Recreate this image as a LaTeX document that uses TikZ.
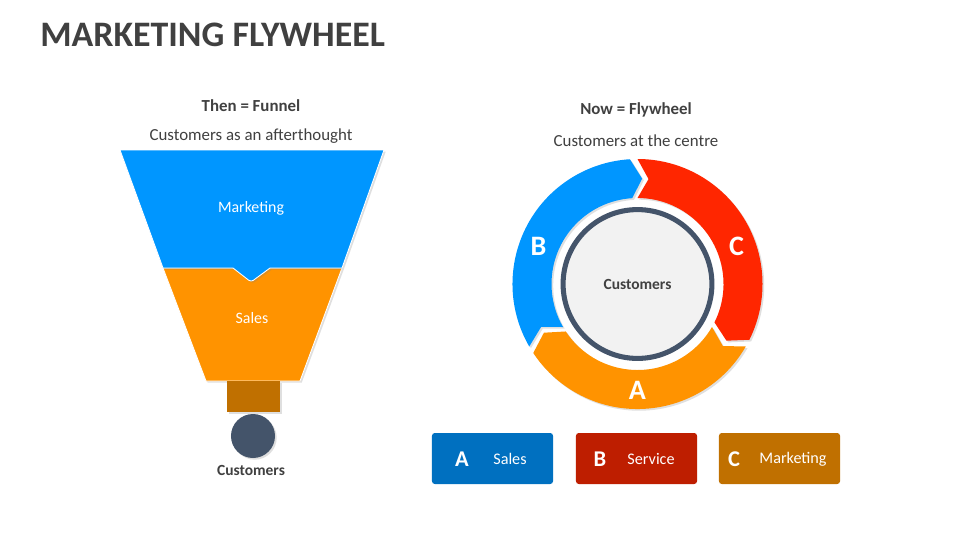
\documentclass[tikz,border=0pt]{standalone}
\usepackage{fontspec}
\setmainfont{Carlito}
\usetikzlibrary{shadows}
\definecolor{fwblue}{HTML}{0096FF}
\definecolor{fwred}{HTML}{FF2600}
\definecolor{fworange}{HTML}{FF9300}
\definecolor{fwbrown}{HTML}{C07000}
\definecolor{fwslate}{HTML}{44546A}
\definecolor{fwtext}{HTML}{404040}
\definecolor{hubfill}{HTML}{F2F2F2}
\definecolor{keyblue}{HTML}{0070C0}
\definecolor{keyred}{HTML}{BE1E00}
\tikzset{
  softshadow/.style={drop shadow={shadow xshift=1.2pt,shadow yshift=-1.2pt,opacity=0.25}},
  piece/.style={draw=white,line width=0.6pt,softshadow},
  heading/.style={text=fwtext,font=\bfseries\fontsize{12}{14}\selectfont},
  subline/.style={text=fwtext,font=\fontsize{12}{14}\selectfont},
  inlabel/.style={text=white,font=\fontsize{11.3}{13}\selectfont},
  ringletter/.style={text=white,font=\bfseries\fontsize{20}{24}\selectfont},
  keybox/.style={rounded corners=2pt,minimum width=3.025cm,minimum height=1.275cm,inner sep=0pt},
  keyletter/.style={text=white,font=\bfseries\fontsize{16}{18}\selectfont},
  keyword/.style={text=white,font=\fontsize{11.5}{13}\selectfont}
}
\begin{document}
\begin{tikzpicture}[x=0.025cm,y=0.025cm]
  \useasboundingbox[fill=white] (0,0) rectangle (960,-540);
  % Title
  \node (title) [anchor=base west,inner sep=0pt,text=fwtext,font=\bfseries\fontsize{25.5}{30}\selectfont] at (40,-46.5) {MARKETING FLYWHEEL};
  % Then = Funnel
  \node (thenhead) [heading] at (251,-105.5) {Then = Funnel};
  \node (thensub) [subline] at (251,-136) {Customers as an afterthought};
  \fill[fworange,piece] (163,-268) -- (342,-268) -- (300,-381) -- (206,-381) -- cycle;
  \fill[fwblue,piece] (120,-150) -- (384,-150) -- (342,-268) -- (270,-268)
    [rounded corners=2pt] -- (251,-282) [sharp corners] -- (233,-268) -- (163,-268) -- cycle;
  \fill[fwbrown,softshadow] (227,-381) rectangle (280,-412);
  \node (fmark) [inlabel] at (251,-208) {Marketing};
  \node (fsales) [inlabel] at (252,-318) {Sales};
  \node (fdot) [circle,fill=fwslate,minimum size=1.1cm,inner sep=0pt,softshadow] at (253,-436) {};
  \node (fcust) [text=fwtext,font=\bfseries\fontsize{11}{13}\selectfont] at (251,-470) {Customers};
  % Now = Flywheel
  \node (nowhead) [heading] at (636,-110) {Now = Flywheel};
  \node (nowsub) [subline] at (636,-140.5) {Customers at the centre};
  \begin{scope}[shift={(637.5,-284)}]
    \foreach \s/\e/\col in {210/93.5/fwblue, 90/-26.5/fwred, -30/-146.5/fworange}
      \fill[\col,softshadow] (\s:125) arc[start angle=\s,end angle=\e,radius=125]
        -- ({\e-6}:105.5) -- (\e:86) arc[start angle=\e,end angle=\s,radius=86]
        -- ({\s-6}:105.5) -- cycle;
    \node (hub) [circle,draw=fwslate,line width=3.6pt,fill=hubfill,minimum size=3.72cm,inner sep=0pt,
      softshadow,text=fwtext,font=\bfseries\fontsize{11}{13}\selectfont] at (0,0) {Customers};
    \node (ringA) [ringletter] at (270:106) {A};
    \node (ringB) [ringletter] at (159:106) {B};
    \node (ringC) [ringletter] at (21:106) {C};
  \end{scope}
  % Key
  \node (keyA) [keybox,fill=keyblue] at (492.5,-458.5) {};
  \node (keyB) [keybox,fill=keyred] at (636.5,-458.5) {};
  \node (keyC) [keybox,fill=fwbrown] at (779.5,-458.5) {};
  \node (keyAl) [keyletter] at (462,-459) {A};
  \node (keyAw) [keyword] at (510,-459) {Sales};
  \node (keyBl) [keyletter] at (600,-459) {B};
  \node (keyBw) [keyword] at (651,-459) {Service};
  \node (keyCl) [keyletter] at (734,-459) {C};
  \node (keyCw) [keyword] at (793,-459) {Marketing};
\end{tikzpicture}
\end{document}
